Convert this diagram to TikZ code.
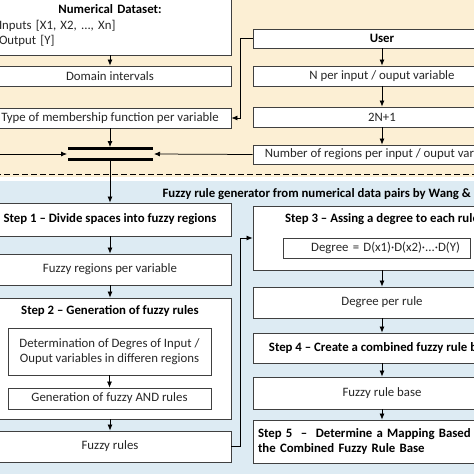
\documentclass[tikz,border=0pt]{standalone}
\usepackage{fontspec}
\setmainfont{Carlito}
\usetikzlibrary{arrows.meta}
\definecolor{inputbg}{HTML}{FCEFD4}
\definecolor{rulebg}{HTML}{DDEBF3}

\begin{document}
\begin{tikzpicture}[x=1pt,y=-1pt]
   \tikzstyle{every node}=[font=\fontsize{12.8}{15.5}\selectfont, text=black!85]
   \tikzstyle{box}=[draw=black!75, fill=white, line width=0.8pt, inner sep=0pt, minimum height=20pt]
   \tikzstyle{lbox}=[box, minimum width=242pt]
   \tikzstyle{rbox}=[box, minimum width=258pt]
   \tikzstyle{flow}=[-{Latex[length=6pt,width=5pt]}, line width=0.75pt]
   \tikzstyle{bar}=[line width=3pt]
   \tikzstyle{head}=[font=\fontsize{12.8}{15.5}\selectfont\bfseries, text=black]

\useasboundingbox (0,0) rectangle (474,474);
\clip (0,0) rectangle (474,474);

% panels
\fill[inputbg] (-5,-5) rectangle (480,177);
\fill[rulebg] (-5,181) rectangle (480,480);
\draw[line width=0.7pt, dash pattern=on 6pt off 3pt] (-5,174) -- (480,174);

% input side
\node[lbox, minimum height=58pt, inner xsep=10pt, text width=222pt, align=left] (data) at (110,26)
    {\makebox[222pt]{\bfseries\color{black}Numerical Dataset:}\\Inputs [X1, X2, ..., Xn]\\Output [Y]};
\node[lbox] (domain) at (110,76) {Domain intervals};
\node[lbox] (mftype) at (110,118) {Type of membership function per variable};

\node[rbox, minimum height=19pt, head] (user) at (382,38.5) {User};
\node[rbox] (nvar) at (382,76) {N per input / ouput variable};
\node[rbox] (twon) at (382,117) {2N+1};
\node[rbox, minimum height=19pt] (regions) at (382,154.5) {Number of regions per input / ouput variable};

% merge bars
\draw[bar] (68,148.5) -- (153,148.5);
\draw[bar] (68,159.5) -- (153,159.5);
\coordinate (bartop) at (110,147);
\coordinate (barbot) at (110,161);
\coordinate (barwest) at (67,154);
\coordinate (bareast) at (154,154);
\coordinate (leftin) at (-10,154);

\draw[flow] (data) -- (domain);
\draw[flow] (mftype) -- (bartop);
\draw[flow] (user.west) -- ++(-12,0) |- (mftype.east);
\draw[flow] (user) -- (nvar);
\draw[flow] (nvar) -- (twon);
\draw[flow] (twon) -- (regions);
\draw[flow] (leftin) -- (barwest);
\draw[flow] (regions.west) -- (bareast);

% rule generator
\node[head, anchor=west] (title) at (159,194) {Fuzzy rule generator from numerical data pairs by Wang \& Mendel};

\node[lbox, minimum height=33pt, head] (step1) at (110,219.5) {Step 1 – Divide spaces into fuzzy regions};
\node[lbox, minimum height=31pt] (fregions) at (110,269.5) {Fuzzy regions per variable};
\node[lbox, minimum height=121pt, label={[head, anchor=north, yshift=-4pt]north:Step 2 – Generation of fuzzy rules}] (step2) at (110,358.5) {};
\node[box, minimum width=203pt, minimum height=47pt, align=center] (degres) at (109.5,351.5)
    {Determination of Degres of Input /\\Ouput variables in differen regions};
\node[box, minimum width=203pt, minimum height=21pt] (andrules) at (109.5,398.5) {Generation of fuzzy AND rules};
\node[lbox, minimum height=31pt] (frules) at (110,446.5) {Fuzzy rules};

\node[rbox, minimum height=64pt, label={[head, anchor=north, yshift=-4pt]north:Step 3 – Assing a degree to each rule}] (step3) at (382,238) {};
\node[box, minimum width=187pt, text width=167pt, inner xsep=10pt, align=right] (degree) at (376.5,248) {Degree = D(x1)·D(x2)·...·D(Y)};
\node[rbox, minimum height=31pt] (degrule) at (382,302.5) {Degree per rule};
\node[rbox, minimum height=30pt, head] (step4) at (382,348) {Step 4 – Create a combined fuzzy rule base};
\node[rbox, minimum height=32pt] (rulebase) at (382,393) {Fuzzy rule base};
\node[rbox, minimum height=43pt, head, text width=248pt, inner xsep=5pt, align=left] (step5) at (382,441.5)
    {Step 5\ \ –\ \ Determine a Mapping Based on\\the Combined Fuzzy Rule Base};

\draw[flow] (barbot) -- (step1);
\draw[flow] (step1) -- (fregions);
\draw[flow] (fregions) -- (step2);
\draw[flow] (degres) -- (andrules);
\draw[flow] (step2) -- (frules);
\draw[flow] (frules.east) -- ++(9,0) |- (step3.west);
\draw[flow] (step3) -- (degrule);
\draw[flow] (degrule) -- (step4);
\draw[flow] (step4) -- (rulebase);
\draw[flow] (rulebase) -- (step5);

\end{tikzpicture}
\end{document}
